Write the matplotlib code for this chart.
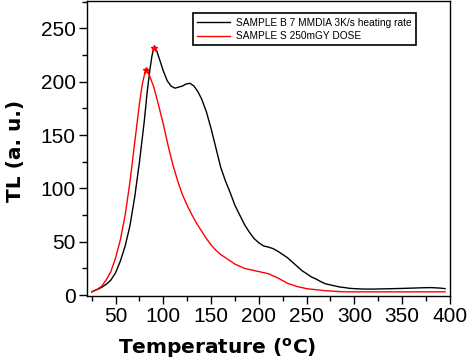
import matplotlib.pyplot as plt
from matplotlib.ticker import MultipleLocator

# sample B (black)
temp_b = [25, 30, 35, 40, 45, 50, 55, 60, 65, 70, 75, 80, 83, 86, 88, 90,
          93, 96, 100, 104, 108, 112, 116, 120, 124, 128, 132, 136, 140, 145,
          150, 155, 160, 165, 170, 175, 180, 185, 190, 195, 200, 205, 210, 215,
          220, 225, 230, 235, 240, 245, 250, 255, 260, 265, 270, 275, 280, 285,
          290, 295, 300, 310, 320, 330, 340, 350, 360, 370, 380, 390, 395]
tl_b = [3, 5, 7, 10, 14, 21, 32, 46, 65, 92, 125, 163, 190, 212, 224, 232,
        229, 221, 210, 201, 196, 194, 195, 196, 198, 198.5, 196, 191, 184, 172,
        156, 138, 120, 107, 96, 84, 75, 66, 59, 53, 49, 46, 45, 43.5,
        41, 38, 35, 31, 27, 23, 20, 17, 15, 12.5, 10.5, 9.5, 8.5, 7.5,
        7, 6.3, 6, 5.6, 5.6, 5.8, 6, 6.2, 6.5, 6.8, 7, 6.5, 6]

# sample S (red)
temp_s = [25, 30, 35, 40, 45, 50, 55, 60, 65, 70, 75, 78, 80, 82,
          85, 90, 95, 100, 105, 110, 115, 120, 125, 130, 135, 140, 145, 150,
          155, 160, 165, 170, 175, 180, 185, 190, 195, 200, 205, 210, 215, 220,
          225, 230, 235, 240, 245, 250, 255, 260, 270, 280, 290, 300, 320, 340,
          360, 380, 395]
tl_s = [3, 5, 8, 14, 22, 35, 52, 75, 106, 143, 180, 198, 206, 211,
        207, 195, 178, 160, 140, 122, 107, 94, 84, 75, 67, 60, 53, 47,
        42, 38, 35, 32, 29, 27, 25, 24, 23, 22, 21, 20, 18, 16,
        13.5, 11, 9.5, 8, 7, 6, 5.5, 5, 4, 3.5, 3, 3, 3, 3,
        3, 3, 3]

fig = plt.figure(figsize=(4.74, 3.62), dpi=100)
ax = fig.add_axes([0.1835, 0.182, 0.7655, 0.816])

ax.plot(temp_b, tl_b, color='black', lw=1.0, label='SAMPLE B 7 MMDIA 3K/s heating rate')
ax.plot(temp_s, tl_s, color='red', lw=1.0, label='SAMPLE S 250mGY DOSE')
ax.plot([90, 82], [232, 211], ls='none', marker='*', color='red', ms=5)

ax.set_xlim(20, 400)
ax.set_ylim(-1, 276)
ax.xaxis.set_major_locator(MultipleLocator(50))
ax.xaxis.set_minor_locator(MultipleLocator(25))
ax.yaxis.set_major_locator(MultipleLocator(50))
ax.yaxis.set_minor_locator(MultipleLocator(25))
ax.set_xticks(range(50, 401, 50))
ax.tick_params(which='both', direction='out', width=1.0)
ax.tick_params(which='major', length=6, labelsize=15, pad=2)
ax.tick_params(which='minor', length=3.5)
for lab in ax.get_xticklabels() + ax.get_yticklabels():
    lab.set_family('Liberation Sans')
for s in ax.spines.values():
    s.set_linewidth(1.0)

plt.rcParams['mathtext.fontset'] = 'dejavusans'
ax.set_xlabel(r'Temperature ($^{\mathbf{o}}$C)', fontsize=14.5, fontweight='bold',
              family='DejaVu Sans')
ax.xaxis.set_label_coords(0.085, -0.176)
ax.xaxis.label.set_horizontalalignment('left')
ax.xaxis.label.set_verticalalignment('center')
ax.set_ylabel('TL (a. u.)', fontsize=14.5, fontweight='bold', family='DejaVu Sans')
ax.yaxis.set_label_coords(-0.198, 0.49)
ax.yaxis.label.set_verticalalignment('center')

leg = ax.legend(loc='upper left', bbox_to_anchor=(0.279, 0.974), fancybox=False,
                edgecolor='black', framealpha=1, handlelength=3.2,
                prop={'family': 'Liberation Sans', 'size': 7.3},
                borderpad=0.4, labelspacing=0.35, handletextpad=0.6)
leg.get_frame().set_linewidth(1.2)

fig.savefig('out.png', dpi=100)
